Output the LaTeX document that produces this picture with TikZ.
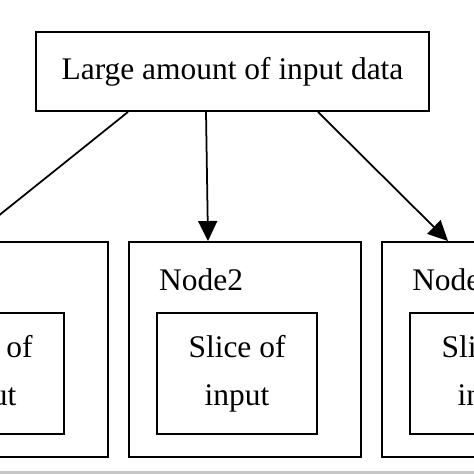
\documentclass[tikz,border=0pt]{standalone}
\usepackage{fontspec}
\setmainfont{Liberation Serif}
\usetikzlibrary{arrows.meta}

\begin{document}
\begin{tikzpicture}[>={Triangle[length=0.4cm,width=0.38cm]}, node distance=5.06cm]
			\tikzstyle{txt} = [font=\fontsize{17.9}{27.3}\selectfont]
			\tikzstyle{outer} = [draw, line width=1.1pt, minimum width=4.64cm, minimum height=4.3cm, inner sep=0pt]
			\tikzstyle{slice} = [draw, line width=1.1pt, txt, align=center, minimum width=3.2cm, minimum height=2.42cm, inner sep=0pt]
			\useasboundingbox (0,0) rectangle (9.48,-9.48);
			\clip (0,0) rectangle (9.48,-9.48);

			\node[draw, line width=1.1pt, txt, minimum width=7.86cm, minimum height=1.58cm] (data) at (4.65,-1.43) {Large amount of input data};

			\begin{scope}[xshift=-5.06cm]
			\node[outer] (n1) at (4.9,-6.99) {};
			\node[slice, xshift=-0.16cm, yshift=-0.48cm] (s1) at (n1) {Slice of\\input};
			\end{scope}

			\begin{scope}
			\node[outer] (n2) at (4.9,-6.99) {};
			\node[slice, xshift=-0.16cm, yshift=-0.48cm] (s2) at (n2) {Slice of\\input};
			\node[txt, anchor=base west, xshift=0.5cm, yshift=-0.98cm] (l2) at (n2.north west) {Node2};
			\end{scope}

			\begin{scope}[xshift=5.06cm]
			\node[outer] (n3) at (4.9,-6.99) {};
			\node[slice, xshift=-0.16cm, yshift=-0.48cm] (s3) at (n3) {Slice of\\input};
			\node[txt, anchor=base west, xshift=0.5cm, yshift=-0.98cm] (l3) at (n3.north west) {Node3};
			\end{scope}

			\draw[->, line width=1pt] ([xshift=-2.09cm]data.south) -- ([xshift=-0.5cm]n1.north);
			\draw[->, line width=1pt] ([xshift=-0.53cm]data.south) -- ([xshift=-0.74cm]n2.north);
			\draw[->, line width=1pt] ([xshift=1.71cm]data.south) -- ([xshift=-1.0cm]n3.north);

			\fill[gray!45] (0,-9.42) rectangle (9.48,-9.48);
			\end{tikzpicture}
\end{document}
